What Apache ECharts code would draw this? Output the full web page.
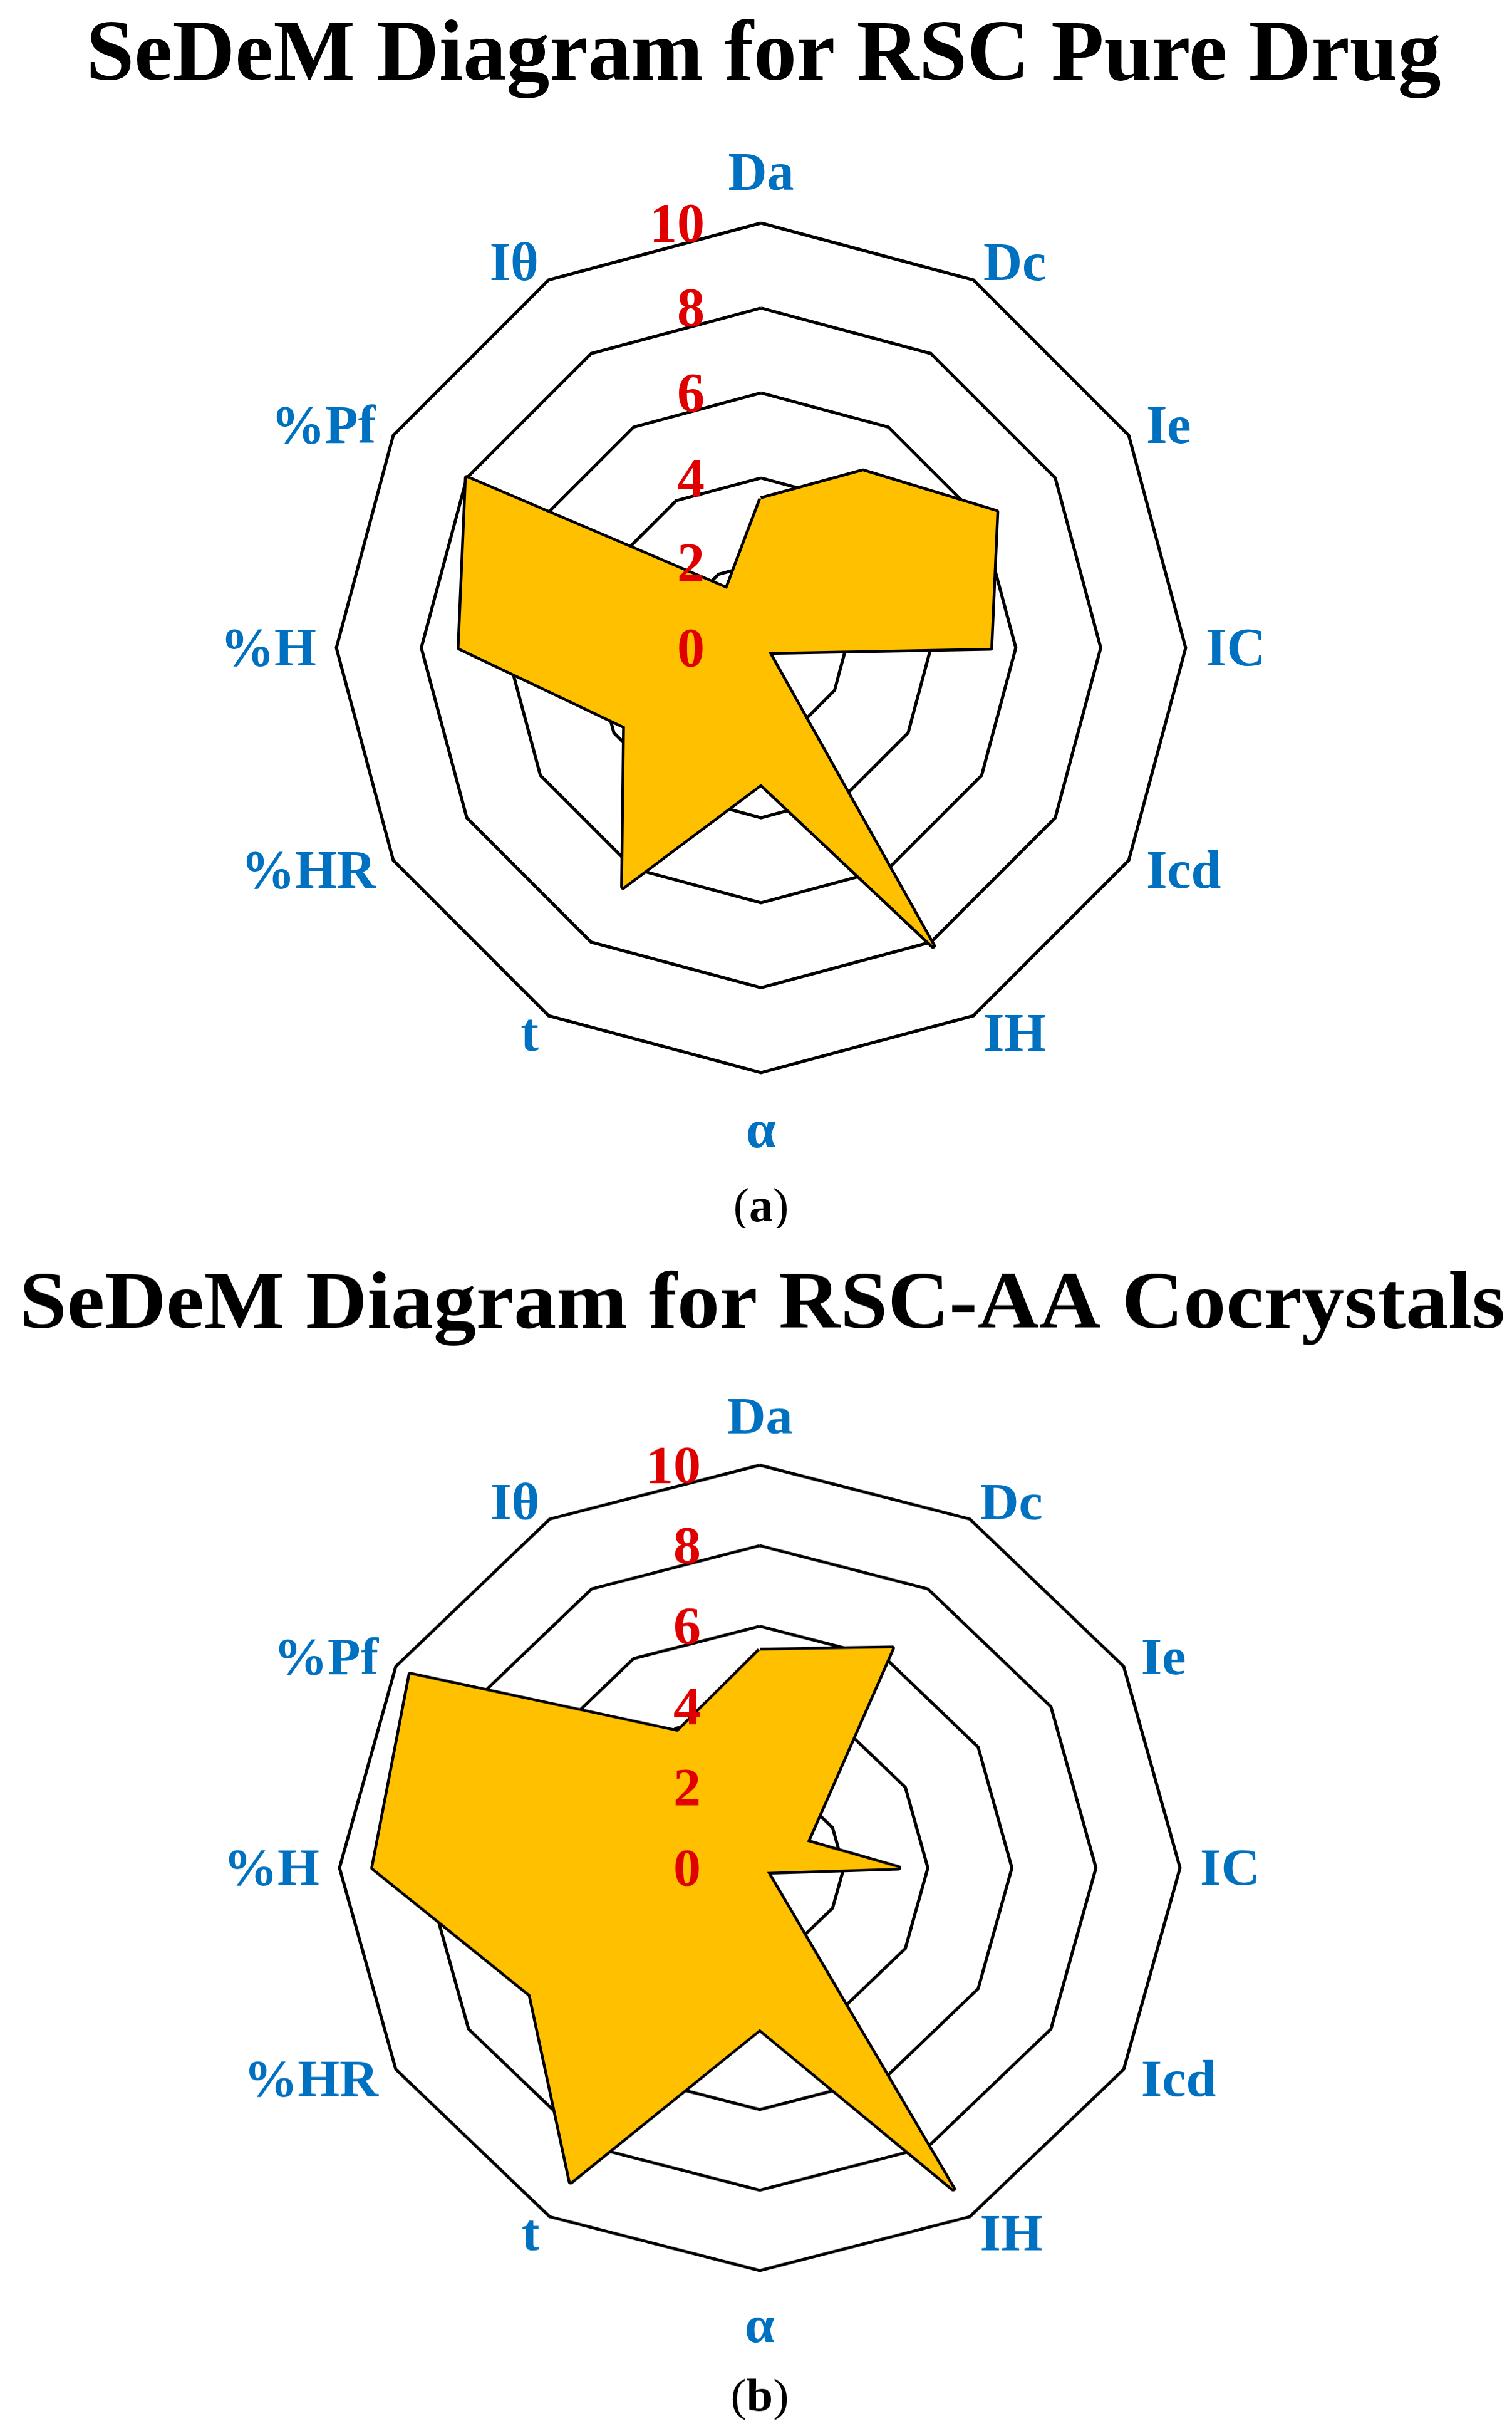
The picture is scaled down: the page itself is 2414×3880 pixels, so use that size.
<!DOCTYPE html>
<html>
<head>
<meta charset="utf-8">
<title>SeDeM Diagram</title>
<script src="https://cdn.jsdelivr.net/npm/echarts@6/dist/echarts.min.js"></script>
<style>
  html, body { margin: 0; padding: 0; background: #fff; }
  #wrap { position: relative; width: 2414px; height: 3880px; overflow: hidden; background: #fff; }
  #chartA { position: absolute; left: 0; top: 0; width: 2414px; height: 1960px; }
  /* lower panel of the figure is slightly squashed in height */
  #chartB { position: absolute; left: 0; top: 1960px; width: 2414px; height: 2004px;
            transform: scaleY(0.958); transform-origin: 0 0; }
</style>
</head>
<body>
<div id="wrap">
  <div id="chartA"></div>
  <div id="chartB"></div>
</div>
<script>
// SeDeM parameters, clockwise from the top
var params = ['Da', 'Dc', 'Ie', 'IC', 'Icd', 'IH', 'α', 't', '%HR', '%H', '%Pf', 'Iθ'];
var rings = [0, 2, 4, 6, 8, 10];
// values, same order as params
var pureDrug = [3.5, 4.8, 6.4, 5.4, 0.2, 8.1, 3.2, 6.5, 3.7, 7.1, 8.0, 1.6];
var cocrystal = [5.4, 6.3, 1.3, 3.3, 0.2, 9.2, 4.0, 9.0, 6.3, 9.2, 9.6, 3.9];

var serif = "'Times New Roman', 'Liberation Serif', serif";
var blue = '#0070C0', red = '#E00000', gold = '#FFC000';
var textNudge = 6;   // canvas puts the glyphs a bit high, the overlay frame is moved down

// echarts lays indicators out counter-clockwise, the figure goes clockwise
var order = params.map(function (p, i) { return i === 0 ? 0 : params.length - i; });

function indicators(overlay) {
    return order.map(function (k) {
        var ind = { name: params[k], min: rings[0], max: rings[rings.length - 1] };
        if (overlay) {
            if (params[k] === 'Da') ind.nameGap = 38;
            if (params[k] === 'α') ind.nameGap = 34;
            if (k === 0) ind.axisLabel = { show: true };   // scale only on the Da spoke
        }
        return ind;
    });
}

function makeOption(cfg) {
    var frame = {
        radius: cfg.r,
        startAngle: 90,
        shape: 'polygon',
        splitNumber: rings.length - 1,
        axisLine: { show: false },
        axisTick: { show: false },
        splitArea: { show: false }
    };
    return {
        animation: false,
        backgroundColor: '#fff',
        title: [{
            text: cfg.title,
            left: cfg.titleX,
            top: cfg.titleTop,
            textAlign: 'center',
            padding: 0,
            textStyle: { fontFamily: serif, fontWeight: 'bold', fontSize: cfg.titleSize, color: '#000' }
        }, {
            text: '{p|(}{b|' + cfg.tag + '}{p|)}',
            left: cfg.cx,
            top: cfg.tagTop,
            textAlign: 'center',
            padding: 0,
            textStyle: {
                rich: {
                    p: { fontFamily: serif, fontWeight: 'normal', fontSize: 76, color: '#000' },
                    b: { fontFamily: serif, fontWeight: 'bold', fontSize: 76, color: '#000' }
                }
            }
        }],
        radar: [
            // rings, under the filled polygon
            Object.assign({}, frame, {
                center: [cfg.cx, cfg.cy],
                indicator: indicators(false),
                axisName: { show: false },
                axisLabel: { show: false },
                splitLine: { lineStyle: { color: '#000', width: 5 } }
            }),
            // names and the red scale, drawn over the polygon
            Object.assign({}, frame, {
                z: 10,
                center: [cfg.cx, cfg.cy + textNudge],
                indicator: indicators(true),
                nameGap: 32,
                axisName: {
                    color: blue, fontFamily: serif, fontWeight: 'bold', fontSize: 86,
                    padding: [14, 0, 0, 0]
                },
                axisLabel: {
                    show: false, color: red, fontFamily: serif, fontWeight: 'bold',
                    fontSize: 88, margin: cfg.labelMargin, padding: [14, 0, 0, 0]
                },
                splitLine: { show: false }
            })
        ],
        series: [{
            type: 'radar',
            radarIndex: 0,
            symbol: 'none',
            silent: true,
            // the fill covers the inner half of the outline
            lineStyle: { color: '#000', width: 9 },
            areaStyle: { color: gold, opacity: 1 },
            data: [{
                name: cfg.title,
                value: order.map(function (k) { return cfg.values[k]; })
            }]
        }]
    };
}

var chartA = echarts.init(document.getElementById('chartA'));
chartA.setOption(makeOption({
    title: 'SeDeM Diagram for RSC Pure Drug',
    titleX: 1219, titleTop: 22, titleSize: 138,
    tag: 'a', tagTop: 1891,
    cx: 1215, cy: 1034, r: 678, labelMargin: 90,
    values: pureDrug
}));

var chartB = echarts.init(document.getElementById('chartB'));
chartB.setOption(makeOption({
    title: 'SeDeM Diagram for RSC-AA Cocrystals',
    titleX: 1217, titleTop: 63, titleSize: 136,
    tag: 'b', tagTop: 1912,
    cx: 1213, cy: 1066, r: 671, labelMargin: 94,
    values: cocrystal
}));
</script>
</body>
</html>
